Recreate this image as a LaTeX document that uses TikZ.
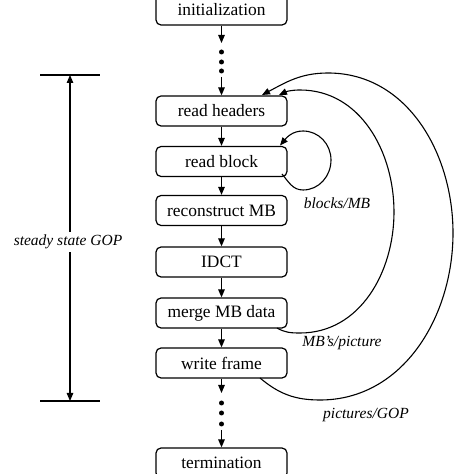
\documentclass[tikz,border=0pt]{standalone}
\usepackage{fontspec}
\setmainfont{Liberation Serif}
\usetikzlibrary{arrows.meta}
\begin{document}
\begin{tikzpicture}[x=1pt,y=1pt, line width=1.2pt,
 box/.style={draw, rounded corners=5pt, minimum width=131pt, minimum height=30pt, font=\fontsize{17.4}{20}\selectfont, inner sep=0pt},
 lab/.style={font=\fontsize{15.5}{18}\selectfont\itshape},
 arr/.style={-{Triangle[length=8pt,width=6.5pt]}},
 curve/.style={arr, line width=1.1pt},
 dotn/.style={circle, fill, inner sep=0pt, minimum size=5pt}]
\clip (0,0) rectangle (474,474);
\useasboundingbox (0,0) rectangle (474,474);
% boxes
\node[box] (init) at (221.5,464) {initialization};
\node[box] (rh) at (221.5,363) {read headers};
\node[box] (rb) at (221.5,312.5) {read block};
\node[box] (rec) at (221.5,263.5) {reconstruct MB};
\node[box] (idct) at (221.5,212) {IDCT};
\node[box] (merge) at (221.5,161) {merge MB data};
\node[box] (wf) at (221.5,111) {write frame};
\node[box] (term) at (221.5,11) {termination};
% straight arrows
\draw[arr] (rh) -- (rb);
\draw[arr] (rb) -- (rec);
\draw[arr] (rec) -- (idct);
\draw[arr] (idct) -- (merge);
\draw[arr] (merge) -- (wf);
% dotted continuation top
\coordinate (a1) at (221.5,431);
\coordinate (a2) at (221.5,397);
\node[dotn] (d1) at (221.5,422) {};
\node[dotn] (d2) at (221.5,412) {};
\node[dotn] (d3) at (221.5,403) {};
\draw[arr] (init) -- (a1);
\draw[arr] (a2) -- (rh);
% dotted continuation bottom
\coordinate (b1) at (221.5,81);
\coordinate (b2) at (221.5,44);
\node[dotn] (d4) at (221.5,71) {};
\node[dotn] (d5) at (221.5,61) {};
\node[dotn] (d6) at (221.5,50) {};
\draw[arr] (wf) -- (b1);
\draw[arr] (b2) -- (term);
% self loop on read block
\coordinate (ls) at (282,300);
\coordinate (lb) at (303,284);
\coordinate (lr) at (331,314);
\coordinate (lt) at (303,343);
\coordinate (le) at (280,328.5);
\draw[curve] (ls) to[out=-50, in=180] (lb) to[out=0, in=-90] (lr) to[out=90, in=0] (lt) to[out=180, in=50] (le);
\node[lab] (l1) at (337,271) {blocks/MB};
% MB's/picture loop
\coordinate (is) at (277,146);
\coordinate (ib) at (300,141);
\coordinate (ir) at (394,262);
\coordinate (it) at (300,384);
\coordinate (ie) at (279,379);
\draw[curve] (is) to[out=-30, in=180] (ib) to[out=0, in=-90] (ir) to[out=90, in=0] (it) to[out=180, in=25] (ie);
\node[lab] (l2) at (342,131) {MB’s/picture};
% pictures/GOP loop
\coordinate (os) at (260,96);
\coordinate (ob) at (320,74);
\coordinate (or) at (453,241);
\coordinate (ot) at (328,401);
\coordinate (oe) at (262,379);
\draw[curve] (os) to[out=-40, in=180] (ob) to[out=0, in=-90] (or) to[out=90, in=0] (ot) to[out=180, in=28] (oe);
\node[lab] (l3) at (366,59) {pictures/GOP};
% bracket
\coordinate (bt) at (70,399);
\coordinate (bb) at (70,73);
\coordinate (tl) at (40,399);
\coordinate (tr) at (100,399);
\coordinate (bl) at (40,73);
\coordinate (br) at (100,73);
\draw (tl) -- (tr);
\draw (bl) -- (br);
\draw[{Triangle[length=8pt,width=6.5pt]}-{Triangle[length=8pt,width=6.5pt]}] (bb) -- (bt);
\node[lab, fill=white, inner sep=3pt] (gop) at (68,232) {steady state GOP};
\end{tikzpicture}
\end{document}
